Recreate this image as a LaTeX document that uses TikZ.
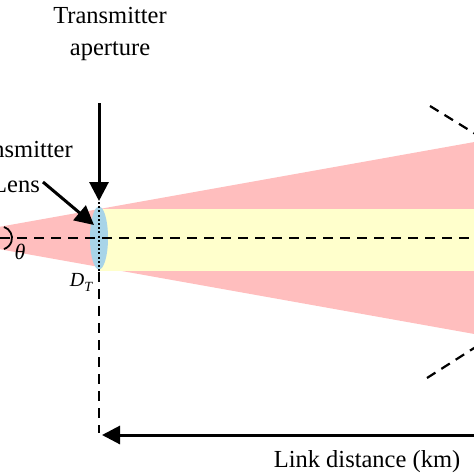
\documentclass[tikz,border=0pt]{standalone}
\usepackage{fontspec}
\setmainfont{Liberation Serif}
\usetikzlibrary{arrows.meta,shapes.geometric}
\definecolor{conepink}{RGB}{255,190,190}
\definecolor{bandyellow}{RGB}{255,255,204}
\definecolor{lensblue}{RGB}{168,212,232}
\tikzset{
  pointer/.style={line width=3pt,-{Triangle[length=19pt,width=19pt]}},
  axisdash/.style={line width=2.2pt,dash pattern=on 10pt off 7pt},
  lensdots/.style={line width=2pt,dash pattern=on 2pt off 2.2pt},
  lbl/.style={inner sep=0pt,align=center,font=\fontsize{24.5}{33}\selectfont},
}
\begin{document}
\begin{tikzpicture}[x=1pt,y=-1pt]
\useasboundingbox (0,0) rectangle (474,474);
\clip (0,0) rectangle (474,474);
% cone and band
\coordinate (apex) at (-63,238);
\fill[conepink] (apex) -- (480,141) -- (480,335) -- cycle;
\fill[bandyellow] (99,209) rectangle (480,271);
% lens
\node[ellipse,fill=lensblue,minimum width=18pt,minimum height=63pt,inner sep=0pt] (lens) at (99,238) {};
% axis
\coordinate (axL) at (0,238);
\coordinate (axR) at (480,238);
\draw[axisdash] (axL) -- (axR);
% dotted line through lens and dashed drop
\coordinate (dotT) at (99,202);
\coordinate (dotB) at (99,272);
\coordinate (dropB) at (99,433);
\draw[lensdots] (dotT) -- (dotB);
\draw[axisdash,line width=2pt] (dotB) -- (dropB);
% theta arc
\draw[line width=1.8pt] (0.4,238) ++(-72:11.6) arc (-72:72:11.6);
\node[inner sep=0pt,font=\fontsize{22}{22}\selectfont\itshape] (theta) at (20,252) {θ};
% D_T label
\node[inner sep=0pt,anchor=base,font=\fontsize{20}{20}\selectfont\itshape] (dt) at (81,286) {D\raisebox{-0.28em}{\fontsize{14}{14}\selectfont T}};
% texts
\node[lbl,anchor=north,font=\fontsize{24.5}{32.5}\selectfont] (aper) at (110,7) {Transmitter\\aperture};
\node[lbl,anchor=north,font=\fontsize{24.5}{34.5}\selectfont] (lenslbl) at (16,141.5) {Transmitter\\Lens};
\node[lbl,anchor=base] (link) at (367,467) {Link distance (km)};
% arrows
\coordinate (aperS) at (99,103);
\coordinate (aperT) at (99,201);
\draw[pointer] (aperS) -- (aperT);
\coordinate (lensS) at (43,182);
\coordinate (lensT) at (94,225);
\draw[pointer] (lensS) -- (lensT);
\coordinate (linkR) at (480,435);
\coordinate (linkL) at (102,435);
\draw[pointer,{Triangle[length=18pt,width=18pt]}-] (linkL) -- (linkR);
% receiver field-of-view dashed lines
\coordinate (fovA) at (430,106);
\coordinate (fovB) at (482,138);
\coordinate (fovC) at (427,378);
\coordinate (fovD) at (482,343);
\draw[axisdash] (fovA) -- (fovB);
\draw[axisdash] (fovC) -- (fovD);
\end{tikzpicture}
\end{document}
